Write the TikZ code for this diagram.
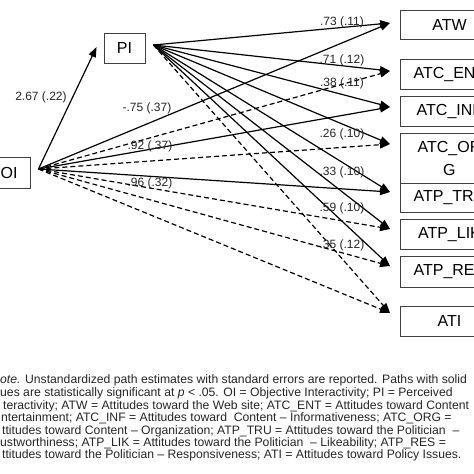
\documentclass[tikz,border=0pt]{standalone}
\usepackage{fontspec}
\setmainfont{Liberation Sans}
\usetikzlibrary{arrows.meta}
\begin{document}
\begin{tikzpicture}[x=1pt,y=-1pt,
  box/.style={draw=black!75, line width=0.9pt, inner sep=0pt, font=\fontsize{16}{18}\selectfont},
  rbox/.style={box, minimum width=98pt, anchor=north west},
  sig/.style={line width=1.2pt, -{Triangle[length=10pt,width=7.5pt]}},
  nsig/.style={sig, dash pattern=on 5pt off 3pt},
  lab/.style={font=\fontsize{12}{14}\selectfont, inner sep=0pt, text=black!85},
  captxt/.style={font=\fontsize{12.2}{13}\selectfont, anchor=base west, inner sep=0pt, text=black!85}]
\useasboundingbox (0,0) rectangle (474,474);
\clip (0,0) rectangle (474,474);
\fill[white] (0,0) rectangle (474,474);

% boxes
\node[box, minimum width=41pt, minimum height=30pt] (PI) at (124.5,48) {PI};
\node[box, minimum width=42pt, minimum height=31pt] (OI) at (9,172.5) {OI};
\node[rbox, minimum height=29pt] (ATW) at (400,10) {ATW};
\node[rbox, minimum height=30pt] (ENT) at (400,59) {ATC\_ENT};
\node[rbox, minimum height=30pt] (INF) at (400,96) {ATC\_INF};
\node[rbox, minimum height=50pt, align=center, font=\fontsize{16}{23}\selectfont] (ORG) at (400,133) {ATC\_OR\\G};
\node[rbox, minimum height=29pt] (TRU) at (400,183) {ATP\_TRU};
\node[rbox, minimum height=30pt] (LIK) at (400,219) {ATP\_LIK};
\node[rbox, minimum height=31pt] (RES) at (400,256) {ATP\_RES};
\node[rbox, minimum height=30pt] (ATI) at (400,306) {ATI};

% ports
\coordinate (oio) at ([xshift=8pt,yshift=3.5pt]OI.east);
\coordinate (pio) at ([xshift=8pt,yshift=3pt]PI.east);
\coordinate (tPI) at ([xshift=-7pt,yshift=1pt]PI.west);
\coordinate (tATW) at ([xshift=-10pt,yshift=-13pt]ATW.north west);
\coordinate (tENT) at ([xshift=-10pt,yshift=-12pt]ENT.north west);
\coordinate (tINF) at ([xshift=-10pt,yshift=-11pt]INF.north west);
\coordinate (tORG) at ([xshift=-10pt,yshift=-11pt]ORG.north west);
\coordinate (tTRU) at ([xshift=-10pt,yshift=-9pt]TRU.north west);
\coordinate (tLIK) at ([xshift=-10pt,yshift=-10pt]LIK.north west);
\coordinate (tRES) at ([xshift=-10pt,yshift=-10pt]RES.north west);
\coordinate (tATI) at ([xshift=-10pt,yshift=-7pt]ATI.north west);

% paths
\draw[sig] (oio) -- (tPI);
\draw[sig] (pio) -- (tATW);
\draw[sig] (pio) -- (tENT);
\draw[sig] (pio) -- (tINF);
\draw[sig] (pio) -- (tORG);
\draw[sig] (pio) -- (tTRU);
\draw[sig] (pio) -- (tLIK);
\draw[sig] (pio) -- (tRES);
\draw[nsig] (pio) -- (tATI);
\draw[sig] (oio) -- (tATW);
\draw[nsig] (oio) -- (tENT);
\draw[sig] (oio) -- (tINF);
\draw[nsig] (oio) -- (tORG);
\draw[sig] (oio) -- (tTRU);
\draw[nsig] (oio) -- (tLIK);
\draw[nsig] (oio) -- (tRES);
\draw[nsig] (oio) -- (tATI);

% labels
\node[lab] (l1) at (41,97) {2.67 (.22)};
\node[lab] (l2) at (147,108) {-.75 (.37)};
\node[lab] (l3) at (150,146) {.92 (.37)};
\node[lab] (l4) at (150,183) {.96 (.32)};
\node[lab] (l5) at (342,22) {.73 (.11)};
\node[lab] (l6) at (342,60) {.71 (.12)};
\node[lab] (l7) at (342,83) {.38 (.11)};
\node[lab] (l8) at (342,134) {.26 (.10)};
\node[lab] (l9) at (342,172) {.33 (.10)};
\node[lab] (l10) at (342,208) {.59 (.10)};
\node[lab] (l11) at (342,245) {.35 (.12)};

% caption
\node[captxt] (c1) at (0,383.5) {\textit{ote.} Unstandardized path estimates with standard errors are reported. Paths with solid};
\node[captxt] (c2) at (0,396.5) {ues are statistically significant at \textit{p} < .05. OI = Objective Interactivity; PI = Perceived};
\node[captxt] (c3) at (3,409) {teractivity; ATW = Attitudes toward the Web site; ATC\_ENT = Attitudes toward Content};
\node[captxt] (c4) at (1,421.5) {ntertainment; ATC\_INF = Attitudes toward\ \ Content -- Informativeness; ATC\_ORG =};
\node[captxt] (c5) at (2,434) {ttitudes toward Content -- Organization; ATP\_TRU = Attitudes toward the Politician\ \ --};
\node[captxt] (c6) at (0,446) {ustworthiness; ATP\_LIK = Attitudes toward the Politician\ \ -- Likeability; ATP\_RES =};
\node[captxt] (c7) at (2,458) {ttitudes toward the Politician -- Responsiveness; ATI = Attitudes toward Policy Issues.};
\end{tikzpicture}
\end{document}
